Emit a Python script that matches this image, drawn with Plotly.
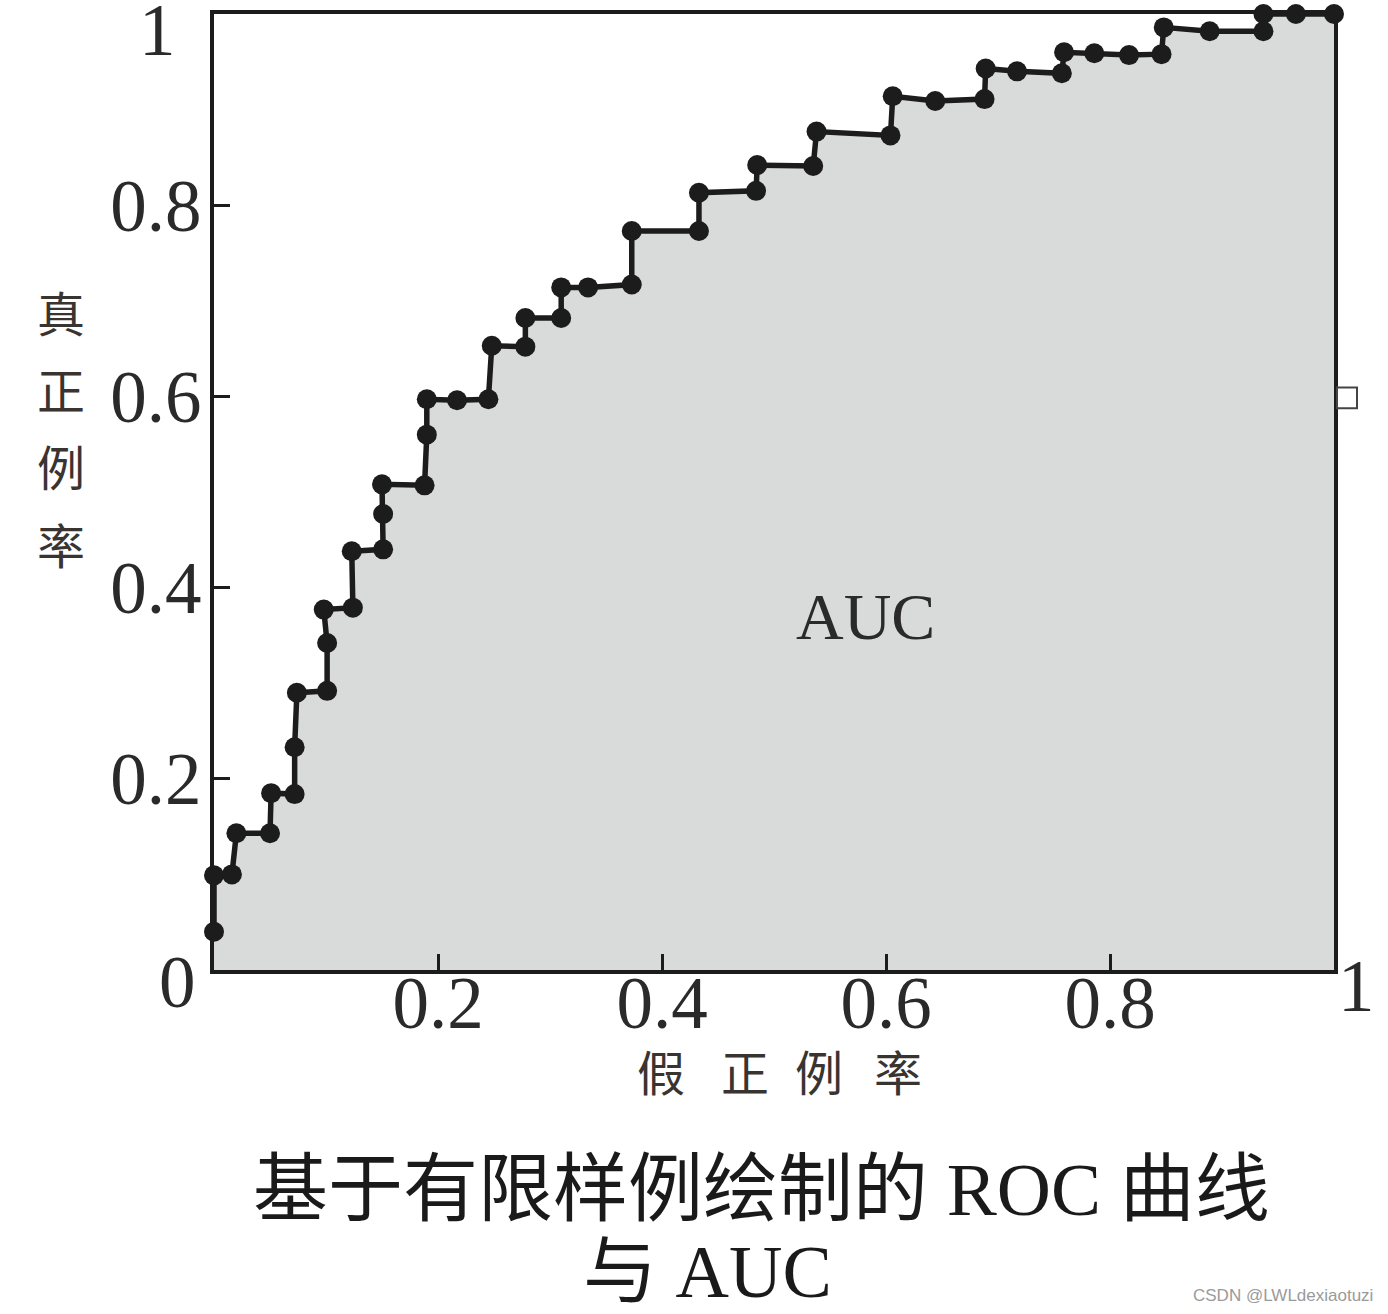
import plotly.graph_objects as go

# ROC points (false positive rate, true positive rate)
fpr = [0.0, 0.0, 0.016, 0.020, 0.050, 0.051, 0.072, 0.072, 0.074, 0.101, 0.101,
       0.098, 0.124, 0.123, 0.151, 0.151, 0.150, 0.188, 0.190, 0.190, 0.217, 0.245,
       0.248, 0.278, 0.278, 0.310, 0.310, 0.334, 0.373, 0.373, 0.433, 0.433, 0.484,
       0.485, 0.535, 0.538, 0.604, 0.606, 0.644, 0.688, 0.689, 0.717, 0.757, 0.759,
       0.786, 0.817, 0.846, 0.848, 0.889, 0.937, 0.937, 0.966, 1.0]
tpr = [0.040, 0.099, 0.100, 0.143, 0.143, 0.185, 0.184, 0.233, 0.290, 0.292, 0.342,
       0.377, 0.379, 0.438, 0.440, 0.477, 0.508, 0.507, 0.560, 0.597, 0.596, 0.597,
       0.653, 0.652, 0.682, 0.682, 0.714, 0.714, 0.717, 0.773, 0.773, 0.813, 0.815,
       0.842, 0.841, 0.877, 0.873, 0.914, 0.909, 0.911, 0.943, 0.940, 0.938, 0.960,
       0.959, 0.957, 0.958, 0.986, 0.982, 0.982, 1.0, 1.0, 1.0]

tick_vals = [0.2, 0.4, 0.6, 0.8]
tick_text = ["0.2", "0.4", "0.6", "0.8"]
corner_labels = ["0", "1", "1"]

x_title_chars = ["假", "正", "例", "率"]
y_title_chars = ["真", "正", "例", "率"]
title_line1 = "基于有限样例绘制的 ROC 曲线"
title_line2 = "与 AUC"
area_label = "AUC"
watermark = "CSDN @LWLdexiaotuzi"

INK = "#1c1c1c"
TXT = "#2a2a2a"
SERIF = "Liberation Serif, DejaVu Serif, serif"
CJK = "Liberation Serif, Noto Sans CJK SC, sans-serif"
TICK_SIZE = 73

fig = go.Figure()
fig.add_trace(go.Scatter(
    x=fpr, y=tpr, mode="lines+markers",
    line=dict(color=INK, width=5.5),
    marker=dict(color=INK, size=20),
    fill="tozeroy", fillcolor="#d9dada",
    cliponaxis=False, showlegend=False, hoverinfo="skip",
))

W, H = 1388, 1314
L, R, T, B = 214, 54, 10, 344

axis_common = dict(
    range=[0, 1], showgrid=False, zeroline=False,
    showline=True, mirror=True, linecolor=INK, linewidth=4,
    ticks="inside", ticklen=16, tickwidth=3, tickcolor=INK,
    tickvals=tick_vals, ticktext=tick_text,
    tickfont=dict(family=SERIF, size=TICK_SIZE, color=TXT),
)
fig.update_xaxes(**axis_common, ticklabelstandoff=-34)
fig.update_yaxes(**axis_common, ticklabelstandoff=-6)


def px_to_paper(px, py):
    return (px - L) / (W - L - R), (H - B - py) / (H - T - B)


annotations = []
# corner tick labels (0 at origin, 1 at the ends of both axes)
for txt, (cx, cy) in zip(corner_labels, [(177, 983), (1356, 987), (157, 27)]):
    xp, yp = px_to_paper(cx, cy)
    annotations.append(dict(x=xp, y=yp, xref="paper", yref="paper", text=txt, showarrow=False,
                            font=dict(family=SERIF, size=TICK_SIZE, color=TXT),
                            xanchor="center", yanchor="middle"))
# AUC label
annotations.append(dict(x=0.582, y=0.37, xref="x", yref="y", text=area_label, showarrow=False,
                        font=dict(family=SERIF, size=66, color=TXT), xanchor="center", yanchor="middle"))

# y title chars
for ch, py in zip(y_title_chars, [313, 390, 467, 546]):
    xp, yp = px_to_paper(61, py)
    annotations.append(dict(x=xp, y=yp, xref="paper", yref="paper", text=ch, showarrow=False,
                            font=dict(family=CJK, size=48, color="#3a3431"),
                            xanchor="center", yanchor="middle"))
# x title chars
for ch, px in zip(x_title_chars, [661, 745, 819, 898]):
    xp, yp = px_to_paper(px, 1075)
    annotations.append(dict(x=xp, y=yp, xref="paper", yref="paper", text=ch, showarrow=False,
                            font=dict(family=CJK, size=48, color="#3a3431"),
                            xanchor="center", yanchor="middle"))
# caption
xp, yp = px_to_paper(761, 1190)
annotations.append(dict(x=xp, y=yp, xref="paper", yref="paper", text=title_line1, showarrow=False,
                        font=dict(family=CJK, size=75, color="#1a1a1a"), xanchor="center", yanchor="middle"))
xp, yp = px_to_paper(707, 1273)
annotations.append(dict(x=xp, y=yp, xref="paper", yref="paper", text=title_line2, showarrow=False,
                        font=dict(family=CJK, size=74, color="#1a1a1a"), xanchor="center", yanchor="middle"))
xp, yp = px_to_paper(1375, 1297)
annotations.append(dict(x=xp, y=yp, xref="paper", yref="paper", text=watermark, showarrow=False,
                        font=dict(family="Liberation Sans, Arial, sans-serif", size=17, color="#9a9a9a"),
                        xanchor="right", yanchor="middle"))

x0, y0 = px_to_paper(1337, 406)
x1, y1 = px_to_paper(1357, 385)
fig.add_shape(type="rect", xref="paper", yref="paper", x0=x0, y0=y0, x1=x1, y1=y1,
              line=dict(color="#444444", width=2), fillcolor="white")

fig.update_layout(
    width=W, height=H, autosize=False,
    margin=dict(l=L, r=R, t=T, b=B, pad=0),
    paper_bgcolor="white", plot_bgcolor="white",
    annotations=annotations, showlegend=False,
)

fig.write_html("out.html", config={"displayModeBar": False},
               post_script="document.body.style.margin='0';document.body.style.overflow='hidden';")
